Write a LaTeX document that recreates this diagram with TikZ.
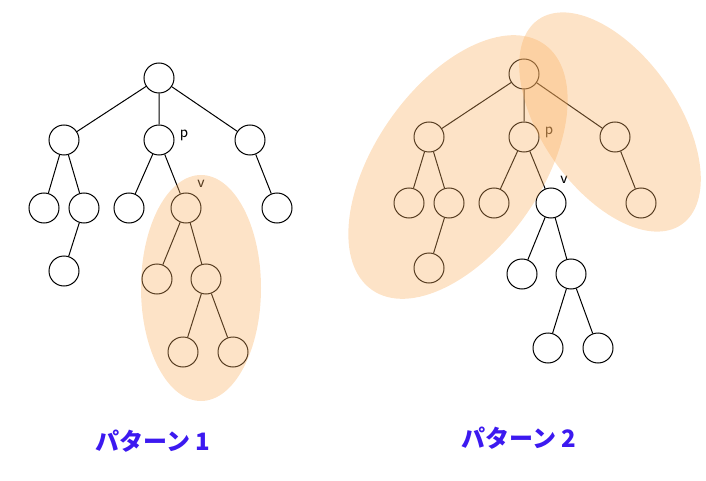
\documentclass[tikz,border=0pt]{standalone}
\usepackage{fontspec}
\newfontfamily\cjk{Noto Sans CJK JP}
\begin{document}
\begin{tikzpicture}[x=1pt,y=-1pt,
  tn/.style={circle,draw,line width=1pt,minimum size=30pt,inner sep=0pt},
  ed/.style={line width=1pt},
  lbl/.style={font=\sffamily\fontsize{17}{17}\selectfont},
  hl/.style={fill={rgb,255:red,250;green,175;blue,95},fill opacity=0.35},
  ttl/.style={font=\cjk\bfseries\fontsize{24}{24}\selectfont,text={rgb,255:red,60;green,25;blue,240}}]
\useasboundingbox (0,0) rectangle (706,481);
% left tree
\node[tn] (a) at (159,78) {};
\node[tn] (b1) at (64,140) {};
\node[tn] (p) at (159,140) {};
\node[tn] (b3) at (250,140) {};
\node[tn] (c1) at (44,208) {};
\node[tn] (c2) at (84,208) {};
\node[tn] (d1) at (64,271) {};
\node[tn] (c3) at (129,208) {};
\node[tn] (v) at (186,208) {};
\node[tn] (c5) at (277,208) {};
\node[tn] (e1) at (157,279) {};
\node[tn] (e2) at (206,279) {};
\node[tn] (f1) at (183,352) {};
\node[tn] (f2) at (233,352) {};
\draw[ed] (a)--(b1) (a)--(p) (a)--(b3) (b1)--(c1) (b1)--(c2) (c2)--(d1) (p)--(c3) (p)--(v) (b3)--(c5) (v)--(e1) (v)--(e2) (e2)--(f1) (e2)--(f2);
\node[lbl] (pl) at (184,135) {p};
\node[lbl] (vl) at (201,184) {v};
\fill[hl] (201,288) ellipse [x radius=60,y radius=113];
% right tree
\node[tn] (A) at (524,74) {};
\node[tn] (B1) at (429,137) {};
\node[tn] (P) at (524,137) {};
\node[tn] (B3) at (615,137) {};
\node[tn] (C1) at (409,203) {};
\node[tn] (C2) at (449,203) {};
\node[tn] (D1) at (429,268) {};
\node[tn] (C3) at (494,203) {};
\node[tn] (V) at (551,203) {};
\node[tn] (C5) at (641,203) {};
\node[tn] (E1) at (522,274) {};
\node[tn] (E2) at (571,274) {};
\node[tn] (F1) at (548,348) {};
\node[tn] (F2) at (598,348) {};
\draw[ed] (A)--(B1) (A)--(P) (A)--(B3) (B1)--(C1) (B1)--(C2) (C2)--(D1) (P)--(C3) (P)--(V) (B3)--(C5) (V)--(E1) (V)--(E2) (E2)--(F1) (E2)--(F2);
\node[lbl] (PL) at (549,132) {p};
\node[lbl] (VL) at (564,180) {v};
\fill[hl,rotate around={55:(458,167)}] (458,167) ellipse [x radius=150,y radius=83];
\fill[hl,rotate around={-55:(610,122)}] (610,122) ellipse [x radius=125,y radius=68];
\node[ttl] (t1) at (153,441) {パターン 1};
\node[ttl] (t2) at (519,438) {パターン 2};
\end{tikzpicture}
\end{document}
